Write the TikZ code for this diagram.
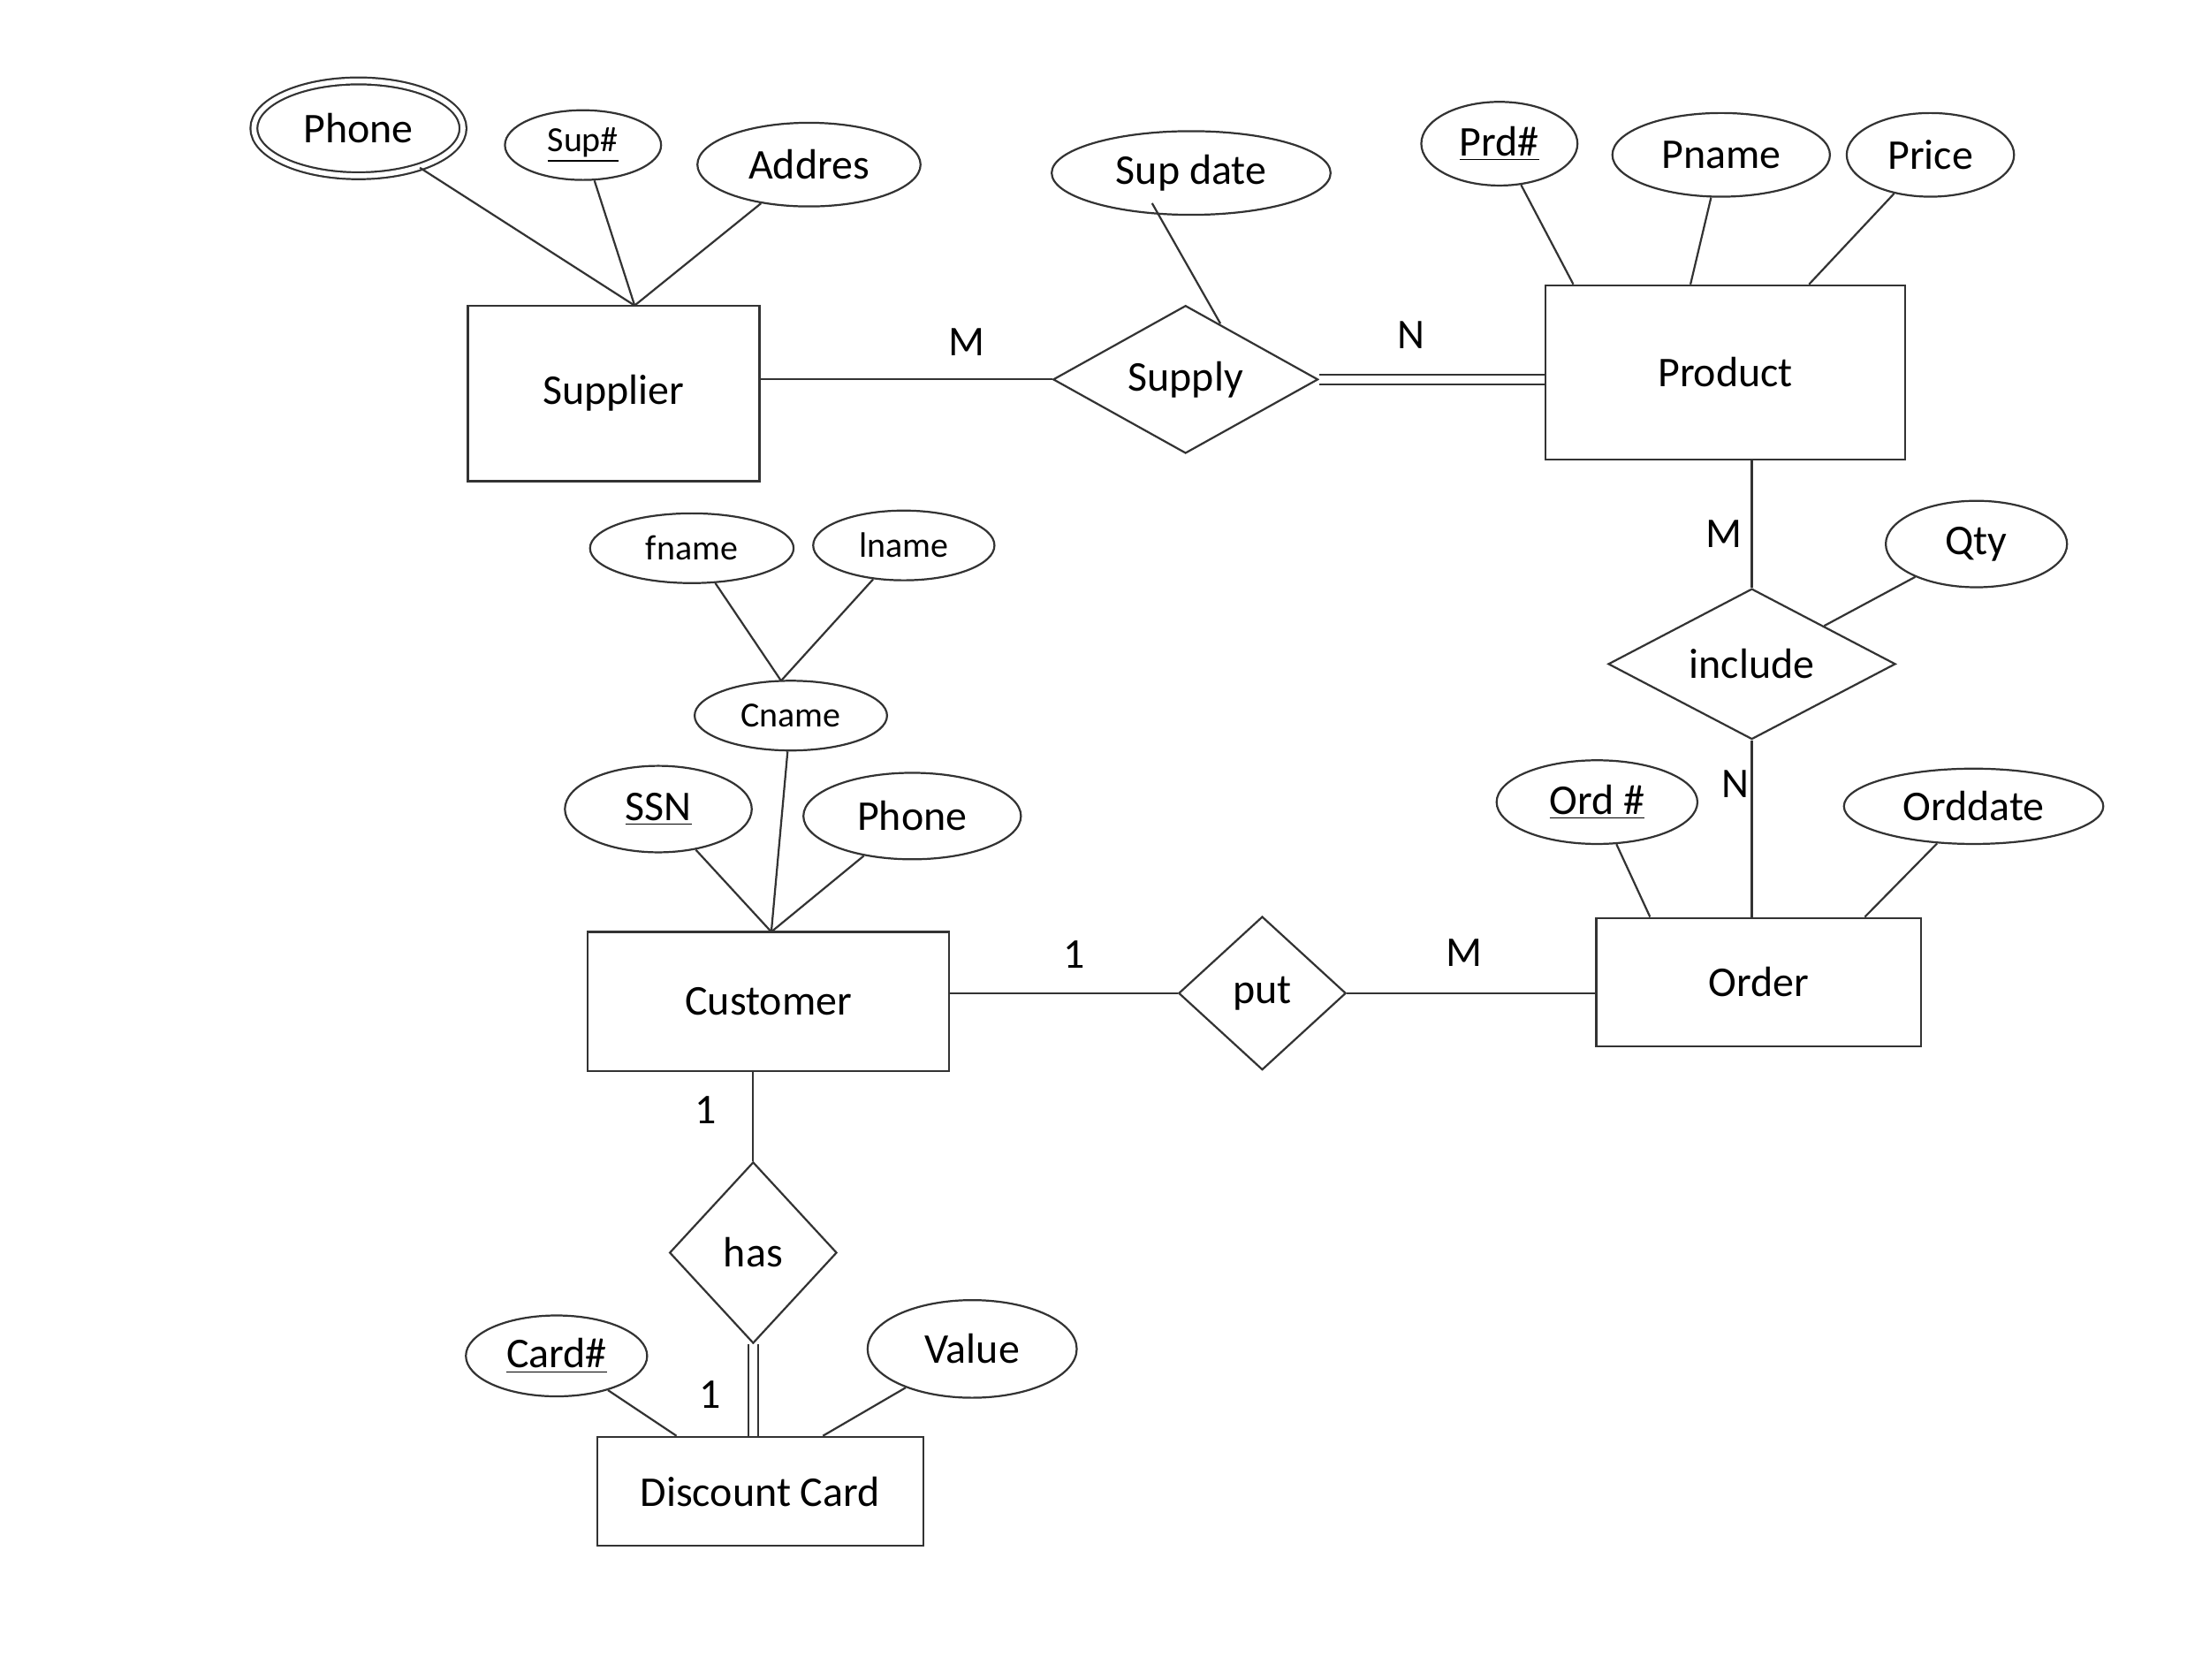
\documentclass[tikz,border=0pt]{standalone}
\usepackage{fontspec}
\setmainfont{Carlito}
\usetikzlibrary{shapes.geometric}
\tikzstyle{entity} = [rectangle, draw=black!80, thick, text centered, font=\LARGE]
\tikzstyle{attr} = [ellipse, draw=black!80, thick, inner sep=0pt, font=\LARGE]
\tikzstyle{rel} = [diamond, draw=black!80, thick, inner sep=0pt, aspect=1.6, font=\LARGE]
\tikzstyle{link} = [thick, black!80]
\tikzstyle{dlink} = [thick, black!80, double, double distance=3pt]
\tikzstyle{card} = [font=\LARGE]

\begin{document}
\begin{tikzpicture}[x=0.02cm, y=-0.02cm]
			\useasboundingbox (0,0) rectangle (1568,1204);
			% Entities
			\node (supplier) [entity, minimum width=4.18cm, minimum height=2.52cm] at (440,282) {Supplier};
			\node (product) [entity, minimum width=5.16cm, minimum height=2.5cm] at (1237,267) {Product};
			\node (customer) [entity, minimum width=5.18cm, minimum height=2cm] at (551,718) {Customer};
			\node (order) [entity, minimum width=4.66cm, minimum height=1.84cm] at (1261,704) {Order};
			\node (card) [entity, minimum width=4.68cm, minimum height=1.56cm, text depth=-0.5cm] at (545,1069) {Discount Card};
			
			% Relationships
			\node (supply) [rel, minimum width=3.8cm, minimum height=2.12cm] at (850,272) {Supply};
			\node (include) [rel, minimum width=4.12cm, minimum height=2.16cm] at (1256,476) {include};
			\node (put) [rel, minimum width=2.4cm, minimum height=2.2cm, aspect=1.1] at (905,712) {put};
			\node (has) [rel, minimum width=2.4cm, minimum height=2.6cm, aspect=0.9] at (540,898) {has};
			
			% Attributes
			\node (phone) [attr, double, double distance=2pt, minimum width=3cm, minimum height=1.36cm] at (257,92) {Phone};
			\node (supno) [attr, minimum width=2.24cm, minimum height=1cm, font=\Large] at (418,104) {\underline{Sup\#}};
			\node (addres) [attr, minimum width=3.2cm, minimum height=1.2cm] at (580,118) {Addres};
			\node (supdate) [attr, minimum width=4cm, minimum height=1.2cm] at (854,124) {Sup date};
			\node (prdno) [attr, minimum width=2.24cm, minimum height=1.2cm] at (1075,103) {\underline{Prd\#}};
			\node (pname) [attr, minimum width=3.12cm, minimum height=1.2cm] at (1234,111) {Pname};
			\node (price) [attr, minimum width=2.4cm, minimum height=1.2cm] at (1384,111) {Price};
			\node (qty) [attr, minimum width=2.6cm, minimum height=1.24cm] at (1417,390) {Qty};
			\node (ordno) [attr, minimum width=2.88cm, minimum height=1.2cm] at (1145,575) {\underline{Ord \#}};
			\node (orddate) [attr, minimum width=3.72cm, minimum height=1.08cm] at (1415,578) {Orddate};
			\node (fname) [attr, minimum width=2.92cm, minimum height=1cm, font=\Large] at (496,393) {fname};
			\node (lname) [attr, minimum width=2.6cm, minimum height=1cm, font=\Large] at (648,391) {lname};
			\node (cname) [attr, minimum width=2.76cm, minimum height=1cm, font=\Large] at (567,513) {Cname};
			\node (ssn) [attr, minimum width=2.68cm, minimum height=1.24cm] at (472,580) {\underline{SSN}};
			\node (cphone) [attr, minimum width=3.12cm, minimum height=1.24cm] at (654,585) {Phone};
			\node (cardno) [attr, minimum width=2.6cm, minimum height=1.16cm] at (399,972) {\underline{Card\#}};
			\node (value) [attr, minimum width=3cm, minimum height=1.4cm] at (697,967) {Value};
			
			% Attachment points
			\coordinate (suptop) at (455,219);
			\coordinate (custtop) at (553,668);
			\coordinate (cnamebot) at (560,488);
			\coordinate (supplyin) at (875,232);
			
			% Connectors
			\draw [link] (phone) -- (suptop);
			\draw [link] (supno) -- (suptop);
			\draw [link] (addres) -- (suptop);
			\draw [link] (supdate.south west -| 826,0) -- (supplyin);
			\draw [link] (supplier.east |- supply.west) -- (supply.west);
			\draw [dlink] (supply.east) -- (product.west |- supply.east);
			\draw [link] (prdno) -- (product.north west -| 1128,0);
			\draw [link] (pname) -- (product.north -| 1212,0);
			\draw [link] (price) -- (product.north east -| 1297,0);
			\draw [link] (product.south -| include.north) -- (include.north);
			\draw [link] (qty) -- (include.north east);
			\draw [link] (include.south) -- (order.north -| include.south);
			\draw [link] (ordno) -- (order.north -| 1183,0);
			\draw [link] (orddate) -- (order.north -| 1337,0);
			\draw [link] (customer.east |- put.west) -- (put.west);
			\draw [link] (put.east) -- (order.west |- put.east);
			\draw [link] (fname) -- (cnamebot);
			\draw [link] (lname) -- (cnamebot);
			\draw [link] (cname) -- (custtop);
			\draw [link] (ssn) -- (custtop);
			\draw [link] (cphone) -- (custtop);
			\draw [link] (customer.south -| has.north) -- (has.north);
			\draw [dlink] (has.south) -- (card.north -| has.south);
			\draw [link] (cardno) -- (card.north -| 485,0);
			\draw [link] (value) -- (card.north -| 590,0);
			
			% Cardinalities
			\node [card] at (693,245) {M};
			\node [card] at (1012,240) {N};
			\node [card] at (1236,383) {M};
			\node [card] at (1244,562) {N};
			\node [card] at (770,684) {1};
			\node [card] at (1050,683) {M};
			\node [card] at (506,796) {1};
			\node [card] at (509,1000) {1};
		\end{tikzpicture}
\end{document}
